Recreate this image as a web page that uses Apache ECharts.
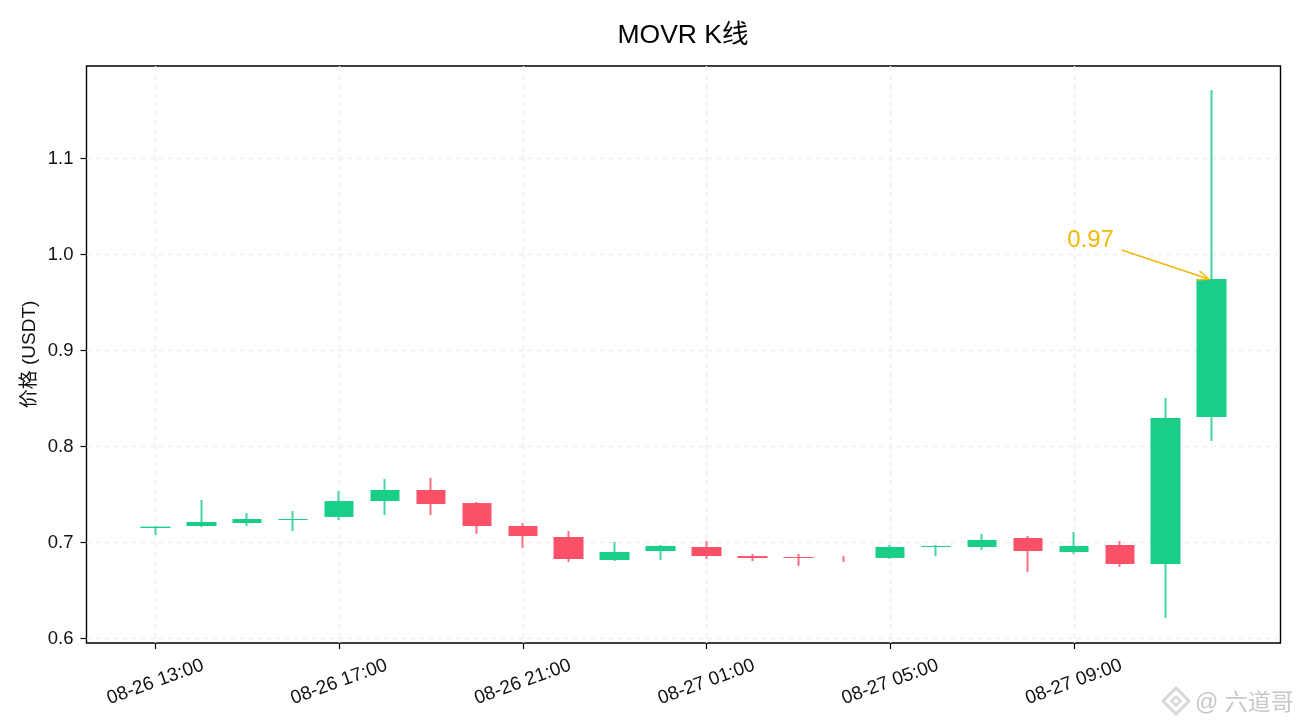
<!DOCTYPE html>
<html><head><meta charset="utf-8">
<style>html,body{margin:0;padding:0;background:#fff}#c{width:1300px;height:728px}</style>
<script src="https://cdn.jsdelivr.net/npm/echarts@6/dist/echarts.min.js"></script></head>
<body><div id="c"></div>
<script>
const categories=["08-26 13:00","08-26 14:00","08-26 15:00","08-26 16:00","08-26 17:00","08-26 18:00","08-26 19:00","08-26 20:00","08-26 21:00","08-26 22:00","08-26 23:00","08-27 00:00","08-27 01:00","08-27 02:00","08-27 03:00","08-27 04:00","08-27 05:00","08-27 06:00","08-27 07:00","08-27 08:00","08-27 09:00","08-27 10:00","08-27 11:00","08-27 12:00"];
const opens =[.7151,.7172,.7203,.7234,.7266,.7432,.7547,.7411,.7172,.7057,.6818,.6911,.6953,.6859,.6849,.6830,.6839,.6953,.6953,.7047,.6901,.6974,.6776,.8307];
const closes=[.7165,.7214,.7245,.7245,.7432,.7547,.7401,.7172,.7068,.6828,.6901,.6964,.6859,.6839,.6839,.6830,.6953,.6964,.7026,.6911,.6964,.6776,.8297,.9745];
const lows  =[.7078,.7162,.7172,.7120,.7234,.7286,.7286,.7089,.6943,.6797,.6807,.6818,.6828,.6807,.6755,.6797,.6828,.6859,.6922,.6693,.6880,.6745,.6214,.8057];
const highs =[.7172,.7443,.7307,.7328,.7536,.7661,.7672,.7422,.7203,.7120,.7005,.6974,.7016,.6880,.6880,.6859,.6974,.6974,.7089,.7068,.7109,.7016,.8505,1.1714];
const yTicks=[0.6,0.7,0.8,0.9,1.0,1.1];
const titleText="MOVR K线", yName="价格 (USDT)", noteText="0.97", noteValue=0.9745, markText="@ 六道哥";

const FONT="'Liberation Sans', 'Noto Sans CJK SC', sans-serif";
const GREEN='#19CF88', RED='#FA5068', GREEN_W='#45D6A0', RED_W='#FB7085';
const xData=[''].concat(categories,['  ']);
const wick=[ '-' ].concat(categories.map((_,i)=>[opens[i],closes[i],lows[i],highs[i]]),['-']);
const body=[ '-' ].concat(categories.map((_,i)=>opens[i]===closes[i]?'-':[opens[i],closes[i],Math.min(opens[i],closes[i]),Math.max(opens[i],closes[i])]),['-']);
const every4=(i)=>i>=1&&i<=24&&(i-1)%4===0;
const chart=echarts.init(document.getElementById('c'),null,{renderer:'canvas'});
chart.setOption({
  animation:false,backgroundColor:'#fff',
  title:{text:titleText,left:678,top:17,textAlign:'center',textStyle:{fontFamily:FONT,fontSize:26.5,fontWeight:400,color:'#000'}},
  grid:{left:86.5,right:19.5,top:66,bottom:85,show:true,borderColor:'#000',borderWidth:1.4,backgroundColor:'transparent'},
  xAxis:{type:'category',data:xData,boundaryGap:true,
    axisLine:{show:false},
    axisTick:{show:true,alignWithLabel:true,interval:every4,length:6,lineStyle:{color:'#000',width:1.2}},
    axisLabel:{show:true,interval:every4,rotate:20,align:'center',verticalAlign:'middle',margin:39,fontFamily:FONT,fontSize:19,color:'#111',hideOverlap:false},
    splitLine:{show:true,alignWithLabel:true,interval:every4,lineStyle:{color:'#eeeeee',type:[5,4],width:1.4}}},
  yAxis:{type:'value',min:0.5953,max:1.1964,name:yName,nameLocation:'middle',nameGap:47,nameMoveOverlap:false,
    nameTextStyle:{fontFamily:FONT,fontSize:19,color:'#111'},
    axisLine:{show:false},
    axisTick:{show:true,length:6,customValues:yTicks,lineStyle:{color:'#000',width:1.2}},
    axisLabel:{show:true,customValues:yTicks,margin:13,padding:[2,0,0,0],fontFamily:FONT,fontSize:18.5,color:'#111',formatter:v=>v.toFixed(1)},
    splitLine:{show:true,lineStyle:{color:'#eeeeee',type:[5,4],width:1.4}}},
  series:[
    {type:'candlestick',name:'wick',data:wick,barWidth:1,z:2,silent:true,
      itemStyle:{color:GREEN_W,color0:RED_W,borderColor:GREEN_W,borderColor0:RED_W,borderWidth:2}},
    {type:'candlestick',name:'body',data:body,barWidth:30,z:3,silent:true,
      itemStyle:{color:GREEN,color0:RED,borderColor:GREEN,borderColor0:RED,borderWidth:0}}
  ]
});
const tip=chart.convertToPixel({xAxisIndex:0,yAxisIndex:0},[categories.length,noteValue]);
const ax=tip[0]-3, ay=tip[1];
const GOLD='#F0B90B', WM='#d8d8d8';
function d(cx,cy,r,w){return {type:'polygon',shape:{points:[[cx,cy-r],[cx+r,cy],[cx,cy+r],[cx-r,cy]]},style:{fill:'none',stroke:WM,lineWidth:w}};}
chart.setOption({graphic:[
  {type:'line',shape:{x1:ax-87,y1:ay-29,x2:ax,y2:ay},style:{stroke:GOLD,lineWidth:1.6},z:10},
  {type:'polyline',shape:{points:[[ax-9,ay-8],[ax,ay],[ax-12,ay+1]]},style:{stroke:GOLD,lineWidth:1.6,fill:'none'},z:10},
  {type:'text',x:ax-118,y:ay-39,style:{text:noteText,fontFamily:FONT,fontSize:24,fill:GOLD,align:'center',verticalAlign:'middle'},z:10},
  {type:'group',z:11,children:[d(1176,701,13,3),d(1176,701,4.5,2.5)]},
  {type:'text',x:1195,y:704,z:11,style:{text:markText,fontFamily:FONT,fontSize:23,fill:'#c8c8c8',align:'left',verticalAlign:'middle'}}
]});
</script></body></html>
